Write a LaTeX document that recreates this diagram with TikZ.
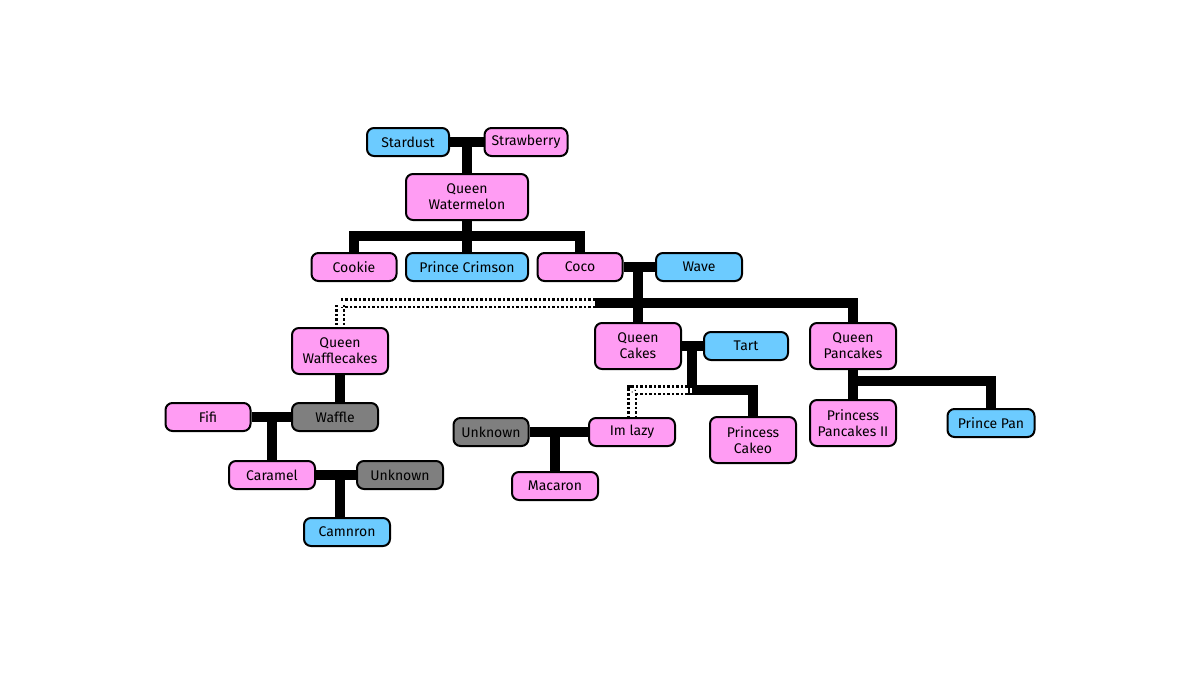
\documentclass[tikz,border=0pt]{standalone}
\usepackage{fontspec}
\setmainfont{Fira Sans}
\usetikzlibrary{backgrounds}
\definecolor{pk}{HTML}{FF9CF3}
\definecolor{bl}{HTML}{6CCBFF}
\definecolor{gy}{HTML}{7F7F7F}
\begin{document}
\begin{tikzpicture}[x=1pt,y=-1pt,
 box/.style={draw=black,line width=2pt,rounded corners=7pt,minimum height=28pt,align=center,font=\fontsize{14}{16}\selectfont,inner sep=1pt},
 p/.style={box,fill=pk}, b/.style={box,fill=bl}, g/.style={box,fill=gy},
 tall/.style={minimum height=46pt},
 ln/.style={line width=10pt},
 dl/.style={double distance=5pt,line width=2.5pt,dotted}]
\useasboundingbox (0,0) rectangle (1200,675);
\coordinate (j1) at (467,142);
\coordinate (j2) at (467,236);
\coordinate (j3) at (638,267);
\coordinate (j4) at (638,303);
\coordinate (j4l) at (595,303);
\coordinate (j5) at (692,346);
\coordinate (j6) at (692,390);
\coordinate (j7) at (853,381);
\coordinate (jf) at (272,417);
\coordinate (jc) at (340,475);
\coordinate (ju) at (555,432);
\node[b,minimum width=82pt] (st) at (408,142) {Stardust};
\node[p,minimum width=83pt] (sw) at (526,142) {Strawberry};
\node[p,tall,minimum width=122pt] (qw) at (467,197) {Queen\\Watermelon};
\node[p,minimum width=85pt] (ck) at (354,267) {Cookie};
\node[b,minimum width=122pt] (pc) at (467,267) {Prince Crimson};
\node[p,minimum width=85pt] (co) at (580,267) {Coco};
\node[b,minimum width=86pt] (wv) at (699,267) {Wave};
\node[p,tall,minimum width=96pt] (qwf) at (340,351) {Queen\\Wafflecakes};
\node[p,tall,minimum width=86pt] (qc) at (638,346) {Queen\\Cakes};
\node[b,minimum width=84pt] (ta) at (746,346) {Tart};
\node[p,tall,minimum width=86pt] (qp) at (853,346) {Queen\\Pancakes};
\node[p,minimum width=85pt] (fi) at (208,417) {Fifi};
\node[g,minimum width=86pt] (wa) at (335,417) {Waffle};
\node[p,minimum width=86pt] (ca) at (272,475) {Caramel};
\node[g,minimum width=86pt] (u1) at (400,475) {Unknown};
\node[b,minimum width=86pt] (cm) at (347,532) {Camnron};
\node[g,minimum width=75pt] (u2) at (491,432) {Unknown};
\node[p,minimum width=86pt] (il) at (632,432) {Im lazy};
\node[p,minimum width=86pt] (ma) at (555,486) {Macaron};
\node[p,tall,minimum width=86pt] (pck) at (753,440) {Princess\\Cakeo};
\node[p,tall,minimum width=86pt] (ppi) at (853,423) {Princess\\Pancakes II};
\node[b,minimum width=87pt] (pp) at (991,423) {Prince Pan};
\begin{scope}[on background layer]
\draw[ln] (st.east) -- (sw.west);
\draw[ln] (j1) -- (qw.north);
\draw[ln] (qw.south) -- (j2);
\draw[ln] (ck.north) |- (j2) -| (co.north);
\draw[ln] (j2) -- (pc.north);
\draw[ln] (co.east) -- (wv.west);
\draw[ln] (j3) -- (j4) -- (qc.north);
\draw[ln] (j4l) -- (j4) -| (qp.north);
\draw[dl] (j4l) -| (qwf.north);
\draw[ln] (qc.east) -- (ta.west);
\draw[ln] (j5) -- (j6) -| (pck.north);
\draw[dl] (j6) -| (il.north);
\draw[ln] (qp.south) -- (ppi.north);
\draw[ln] (j7) -| (pp.north);
\draw[ln] (qwf.south) -- (wa.north -| qwf.south);
\draw[ln] (fi.east) -- (wa.west);
\draw[ln] (jf) -- (ca.north -| jf);
\draw[ln] (ca.east) -- (u1.west);
\draw[ln] (jc) -- (cm.north -| jc);
\draw[ln] (u2.east) -- (il.west);
\draw[ln] (ju) -- (ma.north);
\end{scope}
\end{tikzpicture}
\end{document}
